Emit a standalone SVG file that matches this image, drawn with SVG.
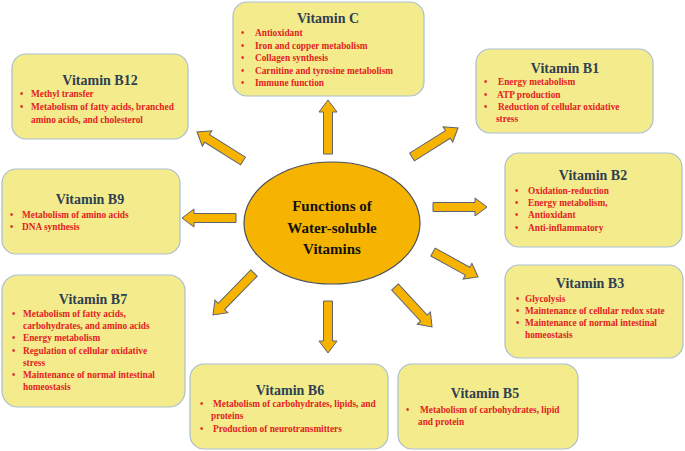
<svg xmlns="http://www.w3.org/2000/svg" width="685" height="451" viewBox="0 0 685 451">
<style>
.box{fill:#f4ec8c;stroke:#a9bfd0;stroke-width:1.2}
.ttl{font-family:"Liberation Serif","Times New Roman",serif;font-weight:bold;font-size:14px;fill:#2f3f52;text-anchor:middle}
.it{font-family:"Liberation Serif","Times New Roman",serif;font-weight:bold;font-size:9.3px;fill:#e3211f}
.arr{fill:#f6b400;stroke:#5b6272;stroke-width:1}
.ctr{font-family:"Liberation Serif","Times New Roman",serif;font-weight:bold;font-size:15px;fill:#111;text-anchor:middle}
</style>
<rect width="685" height="451" fill="#fff"/>
<g id="connectors">
<path class="arr" transform="translate(328,154) rotate(-90)" d="M0,-4.5H42V-9L54,0L42,9V4.5H0Z"/>
<path class="arr" transform="translate(243,161) rotate(-147.8)" d="M0,-4.5H42.4V-9L54.4,0L42.4,9V4.5H0Z"/>
<path class="arr" transform="translate(412,157) rotate(-32.2)" d="M0,-4.5H42.4V-9L54.4,0L42.4,9V4.5H0Z"/>
<path class="arr" transform="translate(236,218) rotate(180)" d="M0,-4.5H42V-9L54,0L42,9V4.5H0Z"/>
<path class="arr" transform="translate(433,207)" d="M0,-4.5H42V-9L54,0L42,9V4.5H0Z"/>
<path class="arr" transform="translate(433,252) rotate(29)" d="M0,-4.5H39.5V-9L51.5,0L39.5,9V4.5H0Z"/>
<path class="arr" transform="translate(395,287) rotate(47.2)" d="M0,-4.5H42.5V-9L54.5,0L42.5,9V4.5H0Z"/>
<path class="arr" transform="translate(328,301) rotate(90)" d="M0,-4.5H40V-9L52,0L40,9V4.5H0Z"/>
<path class="arr" transform="translate(254,273) rotate(134.3)" d="M0,-4.5H46.7V-9L58.7,0L46.7,9V4.5H0Z"/>
</g>
<g id="center">
<ellipse cx="332" cy="223" rx="88" ry="61" fill="#f6b400" stroke="#4a4f5a" stroke-width="1.2"/>
<text class="ctr" x="332" y="211">Functions of</text>
<text class="ctr" x="332" y="233">Water-soluble</text>
<text class="ctr" x="332" y="254">Vitamins</text>
</g>
<g id="vitC">
<rect class="box" x="233" y="2" width="191" height="94" rx="14"/>
<text class="ttl" x="328" y="23">Vitamin C</text>
<g class="it">
<text x="241" y="36">•</text><text x="255" y="36">Antioxidant</text>
<text x="241" y="48.5">•</text><text x="255" y="48.5">Iron and copper metabolism</text>
<text x="241" y="61">•</text><text x="255" y="61">Collagen synthesis</text>
<text x="241" y="73.5">•</text><text x="255" y="73.5">Carnitine and tyrosine metabolism</text>
<text x="241" y="86">•</text><text x="255" y="86">Immune function</text>
</g>
</g>
<g id="vitB12">
<rect class="box" x="12" y="54" width="176" height="85" rx="14"/>
<text class="ttl" x="100" y="85">Vitamin B12</text>
<g class="it">
<text x="20" y="97">•</text><text x="31" y="97">Methyl transfer</text>
<text x="20" y="110">•</text><text x="31" y="110">Metabolism of  fatty acids, branched</text>
<text x="31" y="123">amino acids, and cholesterol</text>
</g>
</g>
<g id="vitB1">
<rect class="box" x="476" y="49" width="177" height="84" rx="14"/>
<text class="ttl" x="565" y="73">Vitamin B1</text>
<g class="it">
<text x="484" y="85">•</text><text x="498" y="85">Energy metabolism</text>
<text x="484" y="98">•</text><text x="497" y="98">ATP production</text>
<text x="484" y="110">•</text><text x="498" y="110">Reduction of cellular oxidative</text>
<text x="496" y="122">stress</text>
</g>
</g>
<g id="vitB9">
<rect class="box" x="2" y="169" width="178" height="85" rx="14"/>
<text class="ttl" x="90" y="204">Vitamin B9</text>
<g class="it">
<text x="10" y="218">•</text><text x="22" y="218">Metabolism of amino acids</text>
<text x="10" y="230">•</text><text x="22" y="230">DNA synthesis</text>
</g>
</g>
<g id="vitB2">
<rect class="box" x="505" y="153" width="177" height="94" rx="14"/>
<text class="ttl" x="593" y="180">Vitamin B2</text>
<g class="it">
<text x="515" y="194">•</text><text x="528" y="194">Oxidation-reduction</text>
<text x="515" y="206">•</text><text x="528" y="206">Energy metabolism,</text>
<text x="515" y="218">•</text><text x="528" y="218">Antioxidant</text>
<text x="515" y="231">•</text><text x="528" y="231">Anti-inflammatory</text>
</g>
</g>
<g id="vitB3">
<rect class="box" x="505" y="265" width="178" height="93" rx="14"/>
<text class="ttl" x="590" y="288">Vitamin B3</text>
<g class="it">
<text x="516" y="302">•</text><text x="525" y="302">Glycolysis</text>
<text x="516" y="314">•</text><text x="525" y="314">Maintenance of cellular redox state</text>
<text x="516" y="326">•</text><text x="525" y="326">Maintenance of normal intestinal</text>
<text x="525" y="338">homeostasis</text>
</g>
</g>
<g id="vitB7">
<rect class="box" x="2" y="275" width="183" height="132" rx="16"/>
<text class="ttl" x="93" y="304">Vitamin B7</text>
<g class="it">
<text x="12" y="317">•</text><text x="23" y="317">Metabolism of fatty acids,</text>
<text x="23" y="329">carbohydrates, and amino acids</text>
<text x="12" y="341">•</text><text x="23" y="341">Energy metabolism</text>
<text x="12" y="354">•</text><text x="23" y="354">Regulation of cellular oxidative</text>
<text x="23" y="366">stress</text>
<text x="12" y="378">•</text><text x="23" y="378">Maintenance of normal intestinal</text>
<text x="23" y="390">homeostasis</text>
</g>
</g>
<g id="vitB6">
<rect class="box" x="190" y="364" width="198" height="85" rx="14"/>
<text class="ttl" x="290" y="395">Vitamin B6</text>
<g class="it">
<text x="200" y="407">•</text><text x="213" y="407">Metabolism of carbohydrates,  lipids, and</text>
<text x="211" y="419">proteins</text>
<text x="200" y="432">•</text><text x="213" y="432">Production of neurotransmitters</text>
</g>
</g>
<g id="vitB5">
<rect class="box" x="398" y="364" width="180" height="85" rx="14"/>
<text class="ttl" x="485" y="398">Vitamin B5</text>
<g class="it">
<text x="406" y="413">•</text><text x="420" y="413">Metabolism of carbohydrates, lipid</text>
<text x="418" y="425">and  protein</text>
</g>
</g>
</svg>
